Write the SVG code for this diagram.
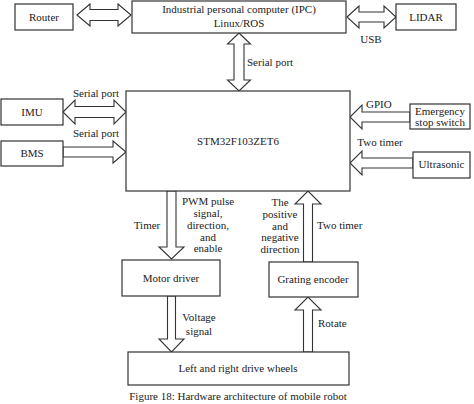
<svg xmlns="http://www.w3.org/2000/svg" width="474" height="404" viewBox="0 0 474 404">
<style>
.box{fill:#fff;stroke:#333;stroke-width:1.2}
.arr{fill:#fff;stroke:#333;stroke-width:1.1;stroke-linejoin:miter}
text{font-family:"Liberation Serif","Times New Roman",serif;font-size:11px;fill:#222}
.c{text-anchor:middle}
</style>
<rect width="474" height="404" fill="#fff"/>
<g id="connectors">
<polygon class="arr" points="77,15 90,4 90,9.5 118,9.5 118,4 131,15 118,26 118,20.5 90,20.5 90,26"/>
<polygon class="arr" points="347,17 359,6 359,12 384,12 384,6 396,17 384,28 384,22 359,22 359,28"/>
<polygon class="arr" points="239,33 250.5,44 244,44 244,80 250.5,80 239,91 227.5,80 234,80 234,44 227.5,44"/>
<polygon class="arr" points="63,112 75,100 75,106.5 114,106.5 114,100 126,112 114,124 114,117.5 75,117.5 75,124"/>
<polygon class="arr" points="63,147 113,147 113,141 126,152 113,163 113,157 63,157"/>
<polygon class="arr" points="410,112 362,112 362,105 350,117 362,129 362,122 410,122"/>
<polygon class="arr" points="413,158 362,158 362,151 350,163 362,175 362,168 413,168"/>
<polygon class="arr" points="167,191 176,191 176,247 184,247 171.5,259 159,247 167,247"/>
<polygon class="arr" points="303.5,262 312.5,262 312.5,204 321,204 308,191 295,204 303.5,204"/>
<polygon class="arr" points="167.5,296 175.5,296 175.5,339 184,339 171.5,352 159,339 167.5,339"/>
<polygon class="arr" points="303.5,352 312.5,352 312.5,310 321,310 308,297 295,310 303.5,310"/>
</g>
<g id="router"><rect class="box" x="15" y="4" width="58" height="26"/><text class="c" x="44" y="21">Router</text></g>
<g id="ipc"><rect class="box" x="132" y="1" width="214" height="32"/><text class="c" x="239" y="13">Industrial personal computer (IPC)</text><text class="c" x="239" y="27">Linux/ROS</text></g>
<g id="lidar"><rect class="box" x="396" y="4" width="60" height="26"/><text class="c" x="426" y="21">LIDAR</text></g>
<g id="stm"><rect class="box" x="126" y="91" width="224" height="100"/><text class="c" x="238" y="145">STM32F103ZET6</text></g>
<g id="imu"><rect class="box" x="1" y="99" width="62" height="26"/><text class="c" x="32" y="116">IMU</text></g>
<g id="bms"><rect class="box" x="1" y="141" width="62" height="25"/><text class="c" x="32" y="157">BMS</text></g>
<g id="estop"><rect class="box" x="410" y="104" width="60" height="25"/><text class="c" x="440" y="115">Emergency</text><text class="c" x="440" y="126">stop switch</text></g>
<g id="ultrasonic"><rect class="box" x="413" y="152" width="57" height="26"/><text class="c" x="441.5" y="168">Ultrasonic</text></g>
<g id="motor"><rect class="box" x="122" y="260" width="98" height="36"/><text class="c" x="171" y="282">Motor driver</text></g>
<g id="encoder"><rect class="box" x="269" y="262" width="89" height="35"/><text class="c" x="313" y="283">Grating encoder</text></g>
<g id="wheels"><rect class="box" x="128" y="352" width="221" height="33"/><text class="c" x="238" y="372">Left and right drive wheels</text></g>
<g id="labels">
<text x="371" y="43" class="c">USB</text>
<text x="247" y="66">Serial port</text>
<text x="96" y="97" class="c">Serial port</text>
<text x="96" y="137" class="c">Serial port</text>
<text x="366" y="108">GPIO</text>
<text x="380" y="146" class="c">Two timer</text>
<text x="147" y="229" class="c">Timer</text>
<text class="c" x="208" y="205">PWM pulse</text>
<text class="c" x="208" y="217">signal,</text>
<text class="c" x="208" y="229">direction,</text>
<text class="c" x="208" y="241">and</text>
<text class="c" x="208" y="252">enable</text>
<text class="c" x="280" y="206">The</text>
<text class="c" x="280" y="218">positive</text>
<text class="c" x="280" y="230">and</text>
<text class="c" x="280" y="241">negative</text>
<text class="c" x="280" y="253">direction</text>
<text x="317" y="229">Two timer</text>
<text class="c" x="199" y="321">Voltage</text>
<text class="c" x="199" y="335">signal</text>
<text x="318" y="327">Rotate</text>
<text class="c" x="238" y="400" style="font-size:11px">Figure 18: Hardware architecture of mobile robot</text>
</g>
</svg>
